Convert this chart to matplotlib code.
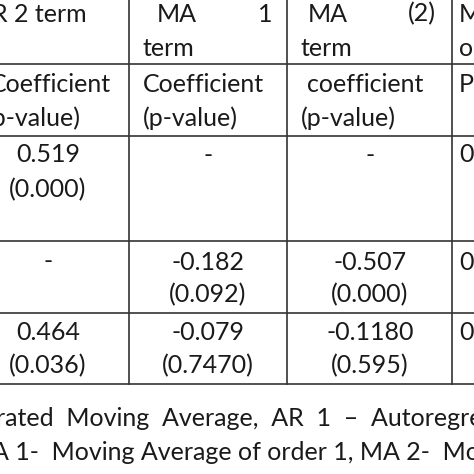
import matplotlib
matplotlib.use("Agg")
import matplotlib.pyplot as plt

font = ["Lato", "DejaVu Sans"]
hlines = [64, 136, 241, 313, 384]
vlines = [129, 287, 452]
col_centers = [48, 208, 370]
coef_rows = [
    ["0.519", "-", "-"],
    ["-", "-0.182", "-0.507"],
    ["0.464", "-0.079", "-0.1180"],
]
pval_rows = [
    ["(0.000)", "", ""],
    ["", "(0.092)", "(0.000)"],
    ["(0.036)", "(0.7470)", "(0.595)"],
]
coef_y = [155, 262, 333]
pval_y = [190, 295, 366]

fig = plt.figure(figsize=(4.74, 4.74), dpi=100)
ax = fig.add_axes([0, 0, 1, 1])
ax.set_xlim(0, 474)
ax.set_ylim(474, 0)
ax.axis("off")
lc = "#333333"
for y in hlines:
    ax.plot([0, 474], [y, y], color=lc, lw=1.2)
for x in vlines:
    ax.plot([x, x], [0, 384], color=lc, lw=1.2)

fs = 18
kw = dict(fontsize=fs, family=font, color="#1a1a1a", va="center")
ax.text(-8, 14, "R 2 term", ha="left", **kw)
ax.text(157, 14, "MA", ha="left", **kw)
ax.text(272, 14, "1", ha="right", **kw)
ax.text(143, 48, "term", ha="left", **kw)
ax.text(308, 14, "MA", ha="left", **kw)
ax.text(436, 14, "(2)", ha="right", **kw)
ax.text(301, 48, "term", ha="left", **kw)
ax.text(459, 14, "M", ha="left", **kw)
ax.text(459, 48, "o", ha="left", **kw)
ax.text(-10, 84, "Coefficient", ha="left", **kw)
ax.text(-14, 118, "(p-value)", ha="left", **kw)
ax.text(143, 84, "Coefficient", ha="left", **kw)
ax.text(143, 118, "(p-value)", ha="left", **kw)
ax.text(307, 84, "coefficient", ha="left", **kw)
ax.text(301, 118, "(p-value)", ha="left", **kw)
ax.text(459, 84, "P", ha="left", **kw)

for r in range(3):
    for c in range(3):
        ax.text(col_centers[c], coef_y[r], coef_rows[r][c], ha="center", **kw)
        if pval_rows[r][c]:
            ax.text(col_centers[c], pval_y[r], pval_rows[r][c], ha="center", **kw)
    ax.text(459, coef_y[r], "0", ha="left", **kw)

ax.text(-4, 418, "rated  Moving  Average,  AR  1  –  Autoregressive", ha="left", **kw)
ax.text(-8, 452, "A 1-  Moving Average of order 1, MA 2-  Moving", ha="left", **kw)

fig.savefig("out.png", dpi=100)
